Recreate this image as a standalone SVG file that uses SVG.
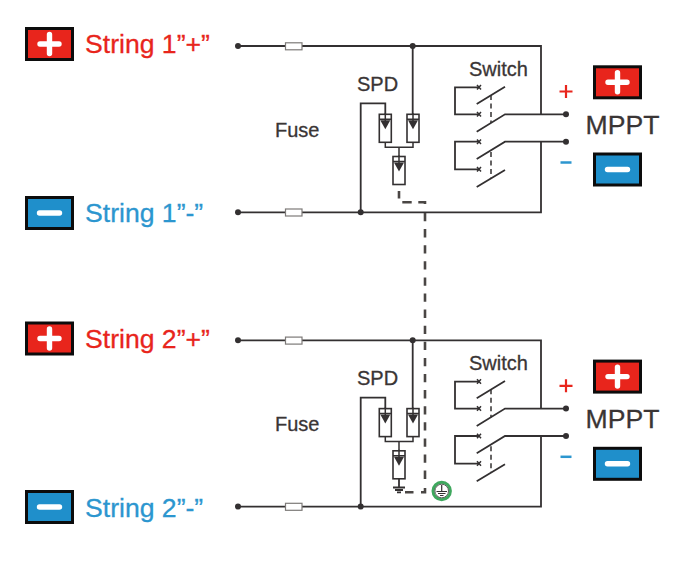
<svg xmlns="http://www.w3.org/2000/svg" width="687" height="572" viewBox="0 0 687 572">
<style>
text{font-family:"Liberation Sans",Arial,sans-serif;stroke-width:.3}
.w{fill:none;stroke:#333031;stroke-width:1.8}
.t{fill:none;stroke:#333031;stroke-width:1.5}
.d{fill:#333031}
.f{fill:#fff;stroke:#7d7a78;stroke-width:1.2}
.l{font-size:20px;fill:#3a3535;stroke:#3a3535}
.m{font-size:26.6px;fill:#3a3535;stroke:#3a3535}
.r{font-size:26.6px;fill:#e8251c;stroke:#e8251c}
.b{font-size:26.6px;fill:#2c96cf;stroke:#2c96cf}
.bx{stroke:#0c0c0c;stroke-width:3}
.k{fill:none;stroke:#fff;stroke-width:5.400;stroke-linecap:round}
.sb{fill:#fff;stroke:#333031;stroke-width:1.6}
.dash{fill:none;stroke:#4a4644;stroke-width:2.600}
</style>
<defs>
<g id="plus"><rect class="bx" x="-23" y="-15.500" width="46" height="31" fill="#e8251c"/><path class="k" d="M-9.500 0H9.500M0-9.500V9.500"/></g>
<g id="minus"><rect class="bx" x="-23" y="-15.500" width="46" height="31" fill="#1f8fcb"/><path class="k" d="M-10 0H10"/></g>
<g id="spd"><rect class="sb" x="-6" y="0" width="12" height="28"/><path class="t" d="M-6 5H6M0-1V8"/><path class="d" d="M-5 6H5L0 15Z"/></g>
<g id="circuit">
<path class="w" d="M238 46H285M302 46H541V114.300M238 212.300H285M302 212.300H541V141.700"/>
<rect class="f" x="285.500" y="42.800" width="16.500" height="7"/>
<rect class="f" x="285.500" y="209" width="16.500" height="7"/>
<circle class="d" cx="238" cy="46" r="3"/><circle class="d" cx="238" cy="212.300" r="3"/>
<circle class="d" cx="412.700" cy="46" r="3"/><circle class="d" cx="360.700" cy="212.300" r="3"/>
<path class="w" d="M412.700 46V114M360.700 212.300V103.300H385.300V114"/>
<path class="t" d="M385.300 142V147.300H413V142M399 147.300V156"/>
<use href="#spd" x="385.300" y="114.300"/><use href="#spd" x="413" y="114.300"/><use href="#spd" x="399" y="156.500"/>
<path class="w" d="M479 87.300H455V114.300H479M479 141.700H455V169.300H479"/>
<path class="w" d="M476.700 104L505 86.700M476.700 131.700L505 114.300H566M476.700 159L505 141.700H566M476.700 187L505 170"/>
<path class="t" d="M491 95V123M491 152V178" stroke-dasharray="5 3.500"/>
<path class="t" d="M477 85L481 89.500M481 85L477 89.500M477 112L481 116.500M481 112L477 116.500M477 139.500L481 144M481 139.500L477 144M477 167L481 171.500M481 167L477 171.500"/>
<circle class="d" cx="566" cy="114.300" r="3"/><circle class="d" cx="566" cy="141.700" r="3"/>
</g>
</defs>
<g id="connectors">
<use href="#circuit"/>
<use href="#circuit" y="294.300"/>
<path class="dash" d="M399 191V198.500M402.300 202.300H411.700M418.300 202.300H425V204M425 488V492.300H421M413.500 492.300H405"/>
<path class="dash" d="M425 213V481" stroke-dasharray="8.300 7.800"/>
<path class="w" d="M399 479V487"/>
<path class="w" stroke-width="1.500" d="M393 487.500H405M395 490H403M397 492.300H401"/>
</g>
<g id="string1p"><use href="#plus" x="49.500" y="44"/><text class="r" x="85" y="53">String 1”+”</text></g>
<g id="string1n"><use href="#minus" x="49.500" y="213"/><text class="b" x="85" y="222">String 1”-”</text></g>
<g id="string2p"><use href="#plus" x="49.500" y="338.500"/><text class="r" x="85" y="347.500">String 2”+”</text></g>
<g id="string2n"><use href="#minus" x="49.500" y="507"/><text class="b" x="85" y="516.500">String 2”-”</text></g>
<g id="labels1"><text class="l" x="357" y="91">SPD</text><text class="l" x="469" y="76">Switch</text><text class="l" x="275" y="137">Fuse</text></g>
<g id="labels2"><text class="l" x="357" y="385">SPD</text><text class="l" x="469" y="370">Switch</text><text class="l" x="275" y="431">Fuse</text></g>
<g id="mppt1"><use href="#plus" x="617.500" y="82.300"/><use href="#minus" x="617.500" y="169.500"/><text class="m" x="585.500" y="134">MPPT</text>
<path d="M559.500 91.500H572.500M566 85V98" stroke="#e8251c" stroke-width="2.200" fill="none"/><path d="M560.500 162.500H571.500" stroke="#2c96cf" stroke-width="2.500" fill="none"/></g>
<g id="mppt2"><use href="#plus" x="617.500" y="376.600"/><use href="#minus" x="617.500" y="463.800"/><text class="m" x="585.500" y="428.300">MPPT</text>
<path d="M559.500 385.800H572.500M566 379.300V392.300" stroke="#e8251c" stroke-width="2.200" fill="none"/><path d="M560.500 456.800H571.500" stroke="#2c96cf" stroke-width="2.500" fill="none"/></g>
<g id="ground"><circle cx="441.700" cy="491" r="8.700" fill="#fff" stroke="#3fa85e" stroke-width="3"/><circle cx="441.700" cy="491" r="6.800" fill="#fff" stroke="#333031" stroke-width=".8"/><path d="M441.700 485V491.500M436.500 491.500H447M438 493.500H445.500M440 495.500H443.500" fill="none" stroke="#333031" stroke-width="1.200"/></g>
</svg>
